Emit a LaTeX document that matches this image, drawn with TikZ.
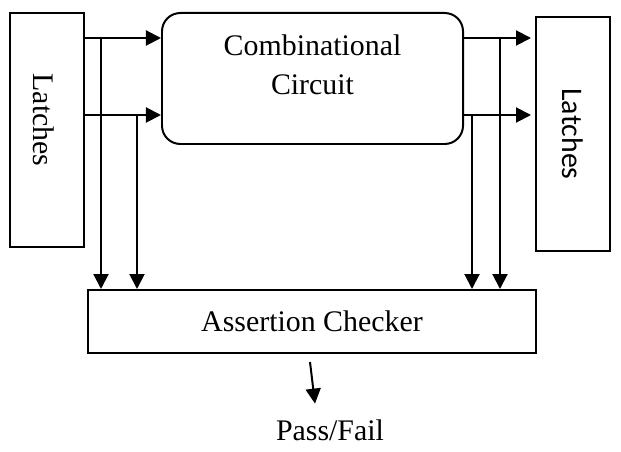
\documentclass[tikz,border=0pt]{standalone}
\usepackage{fontspec}
\setmainfont{Liberation Serif}
\newfontfamily\latchfont{Carlito}
\usetikzlibrary{arrows.meta,positioning,calc}

\begin{document}
\begin{tikzpicture}[x=0.03cm, y=-0.03cm, line width=1.7pt,
  >={Triangle[length=0.45cm,width=0.45cm]},
  every node/.style={font=\fontsize{25.5}{33}\selectfont},
  blk/.style={draw, inner sep=0pt}]
  \useasboundingbox (0,0) rectangle (621,452);

  % Blocks
  \node[blk, minimum width=2.22cm, minimum height=7.02cm,
        label={[rotate=-90, xshift=-0.3cm, yshift=-0.1cm]center:Latches}] (latchL) at (47,130) {};
  \node[blk, rounded corners=0.55cm, minimum width=9.03cm, minimum height=3.93cm,
        label={[align=center, yshift=0.42cm]center:Combinational\\Circuit}] (combo) at (312.5,78.5) {};
  \node[blk, minimum width=2.22cm, minimum height=7.02cm,
        label={[rotate=-90, font=\fontsize{25.5}{33}\latchfont]center:Latches}] (latchR) at (573,134) {};
  \node[blk, minimum width=13.44cm, minimum height=1.89cm] (checker) at (312,321.5) {Assertion Checker};
  \node (pass) at (330,430) {Pass/Fail};

  % Taps on the signal lines
  \coordinate (inA) at (101,38);
  \coordinate (inB) at (137,115);
  \coordinate (outA) at (500,38);
  \coordinate (outB) at (472,115);

  % Latches -> circuit
  \draw[->] (latchL.east |- inA) -- (combo.west |- inA);
  \draw[->] (latchL.east |- inB) -- (combo.west |- inB);

  % Circuit -> latches
  \draw[->, shorten >=0.12cm] (combo.east |- outA) -- (latchR.west |- outA);
  \draw[->, shorten >=0.12cm] (combo.east |- outB) -- (latchR.west |- outB);

  % Into the checker
  \foreach \t in {inA,inB,outB,outA}
    \draw[->] (\t) -- (\t |- checker.north);

  % Result
  \coordinate (res) at (310,362);
  \draw[->] (res) -- ($(pass.north)+(-15,-11)$);
\end{tikzpicture}
\end{document}
